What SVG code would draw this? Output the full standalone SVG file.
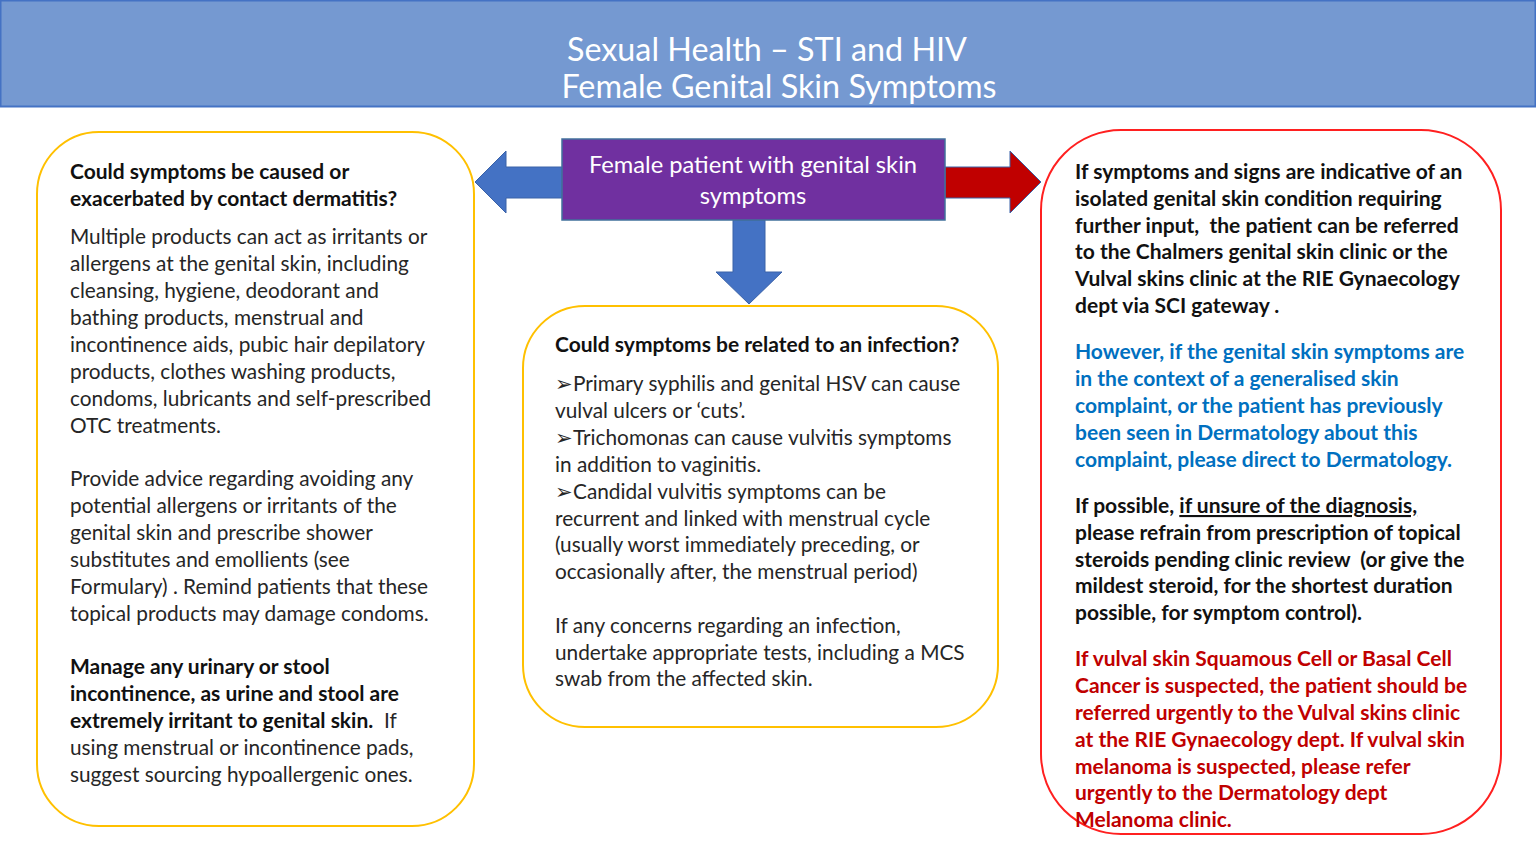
<svg xmlns="http://www.w3.org/2000/svg" width="1536" height="847" viewBox="0 0 1536 847">
<style>
.t{font-family:Lato,"Liberation Sans",sans-serif;font-size:20.8px;fill:#262626}
.b{font-weight:bold;fill:#111;font-size:21px}
.blue{fill:#0070C0}
.red{fill:#C00000}
.title{font-family:Lato,"Liberation Sans",sans-serif;font-size:32.3px;fill:#fff;text-anchor:middle}
.pt{font-family:Lato,"Liberation Sans",sans-serif;font-size:23.7px;fill:#fff;text-anchor:middle}
.box{fill:#fff;stroke-width:2}
</style>
<rect width="1536" height="847" fill="#fff"/>
<g id="header">
<rect x="0.5" y="0.5" width="1535" height="106" fill="#7599D1" stroke="#4472C4" stroke-width="2"/>
<text class="title" x="767" y="61">Sexual Health – STI and HIV</text>
<text class="title" x="779" y="98">Female Genital Skin Symptoms</text>
</g>
<g id="connectors">
<path d="M562,167 H506 V151 L475,182 L506,213 V198 H562 Z" fill="#4472C4" stroke="#3A62A8" stroke-width="1"/>
<path d="M945,167 H1010 V151 L1041,182 L1010,213 V198 H945 Z" fill="#C00000" stroke="#3A62A8" stroke-width="1"/>
<path d="M733,220 V272 H716 L749,304 L782,272 H765 V220 Z" fill="#4472C4" stroke="#3A62A8" stroke-width="1"/>
</g>
<g id="start">
<rect x="562" y="139" width="383" height="81" fill="#7030A0" stroke="#41719C" stroke-width="1.5"/>
<text class="pt" x="753" y="173">Female patient with genital skin</text>
<text class="pt" x="753" y="204">symptoms</text>
</g>
<g id="left">
<rect class="box" x="37" y="132" width="437" height="694" rx="62" stroke="#FFC000"/>
<text class="t" x="70">
<tspan class="b" x="70" y="179">Could symptoms be caused or</tspan>
<tspan class="b" x="70" y="206">exacerbated by contact dermatitis?</tspan>
<tspan x="70" y="244">Multiple products can act as irritants or</tspan>
<tspan x="70" y="271">allergens at the genital skin, including</tspan>
<tspan x="70" y="298">cleansing, hygiene, deodorant and</tspan>
<tspan x="70" y="325">bathing products, menstrual and</tspan>
<tspan x="70" y="352">incontinence aids, pubic hair depilatory</tspan>
<tspan x="70" y="379">products, clothes washing products,</tspan>
<tspan x="70" y="406">condoms, lubricants and self-prescribed</tspan>
<tspan x="70" y="433">OTC treatments.</tspan>
<tspan x="70" y="486">Provide advice regarding avoiding any</tspan>
<tspan x="70" y="513">potential allergens or irritants of the</tspan>
<tspan x="70" y="540">genital skin and prescribe shower</tspan>
<tspan x="70" y="567">substitutes and emollients (see</tspan>
<tspan x="70" y="594">Formulary) . Remind patients that these</tspan>
<tspan x="70" y="621">topical products may damage condoms.</tspan>
<tspan class="b" x="70" y="674">Manage any urinary or stool</tspan>
<tspan class="b" x="70" y="701">incontinence, as urine and stool are</tspan>
<tspan class="b" x="70" y="728">extremely irritant to genital skin.</tspan><tspan>&#160; If</tspan>
<tspan x="70" y="755">using menstrual or incontinence pads,</tspan>
<tspan x="70" y="782">suggest sourcing hypoallergenic ones.</tspan>
</text>
</g>
<g id="center">
<rect class="box" x="523" y="306" width="475" height="421" rx="62" stroke="#FFC000"/>
<text class="t" x="555">
<tspan class="b" x="555" y="352">Could symptoms be related to an infection?</tspan>
<tspan x="555" y="391">➢Primary syphilis and genital HSV can cause</tspan>
<tspan x="555" y="418">vulval ulcers or ‘cuts’.</tspan>
<tspan x="555" y="445">➢Trichomonas can cause vulvitis symptoms</tspan>
<tspan x="555" y="472">in addition to vaginitis.</tspan>
<tspan x="555" y="499">➢Candidal vulvitis symptoms can be</tspan>
<tspan x="555" y="526">recurrent and linked with menstrual cycle</tspan>
<tspan x="555" y="552">(usually worst immediately preceding, or</tspan>
<tspan x="555" y="579">occasionally after, the menstrual period)</tspan>
<tspan x="555" y="633">If any concerns regarding an infection,</tspan>
<tspan x="555" y="660">undertake appropriate tests, including a MCS</tspan>
<tspan x="555" y="686">swab from the affected skin.</tspan>
</text>
</g>
<g id="right">
<rect class="box" x="1041" y="130" width="460" height="704" rx="80" stroke="#FF2020"/>
<text class="t b" x="1075">
<tspan x="1075" y="179">If symptoms and signs are indicative of an</tspan>
<tspan x="1075" y="206">isolated genital skin condition requiring</tspan>
<tspan x="1075" y="233">further input,&#160; the patient can be referred</tspan>
<tspan x="1075" y="259">to the Chalmers genital skin clinic or the</tspan>
<tspan x="1075" y="286">Vulval skins clinic at the RIE Gynaecology</tspan>
<tspan x="1075" y="313">dept via SCI gateway .</tspan>
<tspan class="blue" x="1075" y="359">However, if the genital skin symptoms are</tspan>
<tspan class="blue" x="1075" y="386">in the context of a generalised skin</tspan>
<tspan class="blue" x="1075" y="413">complaint, or the patient has previously</tspan>
<tspan class="blue" x="1075" y="440">been seen in Dermatology about this</tspan>
<tspan class="blue" x="1075" y="467">complaint, please direct to Dermatology.</tspan>
<tspan x="1075" y="513">If possible, </tspan><tspan text-decoration="underline">if unsure of the diagnosis,</tspan>
<tspan x="1075" y="540">please refrain from prescription of topical</tspan>
<tspan x="1075" y="567">steroids pending clinic review&#160; (or give the</tspan>
<tspan x="1075" y="593">mildest steroid, for the shortest duration</tspan>
<tspan x="1075" y="620">possible, for symptom control).</tspan>
<tspan class="red" x="1075" y="666">If vulval skin Squamous Cell or Basal Cell</tspan>
<tspan class="red" x="1075" y="693">Cancer is suspected, the patient should be</tspan>
<tspan class="red" x="1075" y="720">referred urgently to the Vulval skins clinic</tspan>
<tspan class="red" x="1075" y="747">at the RIE Gynaecology dept. If vulval skin</tspan>
<tspan class="red" x="1075" y="774">melanoma is suspected, please refer</tspan>
<tspan class="red" x="1075" y="800">urgently to the Dermatology dept</tspan>
<tspan class="red" x="1075" y="827">Melanoma clinic.</tspan>
</text>
</g>
</svg>
